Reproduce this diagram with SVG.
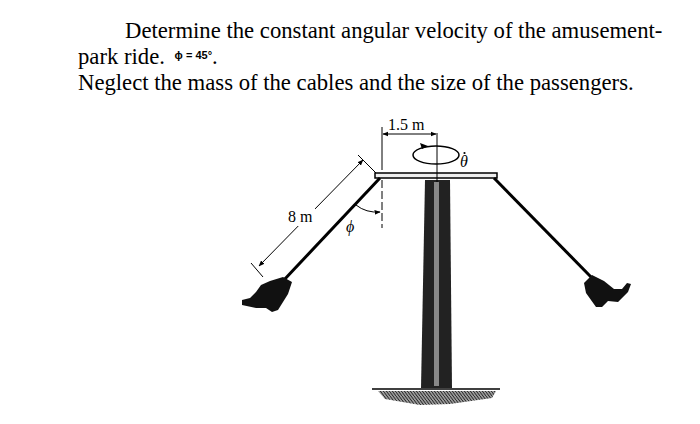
<svg xmlns="http://www.w3.org/2000/svg" width="700" height="424" viewBox="0 0 700 424">
<style>
.t{font-family:"Liberation Serif",serif;font-size:22.7px;fill:#000}
.l{font-family:"Liberation Serif",serif;font-size:16px;fill:#000}
.s{font-family:"Liberation Sans",sans-serif;font-size:11px;font-weight:bold}
.ln{stroke:#000;fill:none}
</style>
<defs>
<marker id="a" viewBox="0 0 10 10" refX="9" refY="5" markerWidth="6" markerHeight="6" orient="auto-start-reverse"><path d="M0,1L10,5L0,9z"/></marker>
<pattern id="g" width="6" height="4" patternUnits="userSpaceOnUse"><rect width="6" height="4" fill="#999"/><path d="M0,0l3,4M3,0l3,4" stroke="#222" stroke-width="1"/></pattern>
</defs>
<rect width="700" height="424" fill="#fff"/>
<text class="t" x="125" y="38">Determine the constant angular velocity of the amusement-</text>
<text class="t" x="78" y="64">park ride. <tspan class="s" dx="4" dy="-5">ϕ = 45°</tspan><tspan dy="5">.</tspan></text>
<text class="t" x="78" y="90">Neglect the mass of the cables and the size of the passengers.</text>
<g id="column">
<path d="M425,180L450,180L452,388L421,388Z" fill="#222"/>
<path d="M434,182L439,182L439,386L434,386Z" fill="#888"/>
<line class="ln" x1="372" y1="389" x2="500" y2="389" stroke-width="1.5"/>
<path d="M378,391L496,391L492,398L450,404L420,405L385,399Z" fill="url(#g)"/>
</g>
<g id="bar">
<rect x="375" y="173" width="122" height="5" fill="#eee" stroke="#000" stroke-width="1.5"/>
<line class="ln" x1="437" y1="133" x2="437" y2="182"/>
</g>
<g id="cables">
<line class="ln" x1="380" y1="178" x2="283" y2="281" stroke-width="3"/>
<line class="ln" x1="494" y1="178" x2="592" y2="278" stroke-width="3"/>
</g>
<g id="seats" fill="#111">
<path d="M283,277l9,5l-4,12l-10,16l-6,2l-6,-4l-10,0l-14,-3l0,-5l8,-2l6,-6l5,-7l9,-4z"/>
<path d="M592,275l-8,8l2,10l10,14l6,0l6,-6l10,1l10,-10l3,-8l-4,-1l-5,6l-8,0l-10,-8z"/>
</g>
<g id="dim8">
<line class="ln" x1="363" y1="160" x2="259" y2="266" marker-end="url(#a)" marker-start="url(#a)"/>
<line class="ln" x1="358" y1="155" x2="376" y2="173"/>
<line class="ln" x1="251" y1="263" x2="263" y2="277"/>
<rect x="287" y="207" width="28" height="19" fill="#fff"/>
<text class="l" x="288" y="222">8 m</text>
</g>
<g id="phi">
<line class="ln" x1="382" y1="127" x2="382" y2="170"/>
<line class="ln" x1="382" y1="180" x2="382" y2="228" stroke-dasharray="8,3"/>
<path class="ln" d="M356,205Q366,213 380,212" marker-end="url(#a)"/>
<text class="l" x="346" y="232" font-style="italic">ϕ</text>
</g>
<g id="dim15">
<line class="ln" x1="383" y1="134" x2="436" y2="134" marker-end="url(#a)" marker-start="url(#a)"/>
<text class="l" x="388" y="130">1.5 m</text>
</g>
<g id="rotation">
<ellipse class="ln" cx="436" cy="155" rx="23" ry="9" stroke-width="1.5"/>
<path d="M428,146l-8,-3l2,6z" fill="#000"/>
<text class="l" x="460" y="167" font-style="italic">θ</text>
<circle cx="464.5" cy="153" r="1.1" fill="#000"/>
</g>
</svg>
